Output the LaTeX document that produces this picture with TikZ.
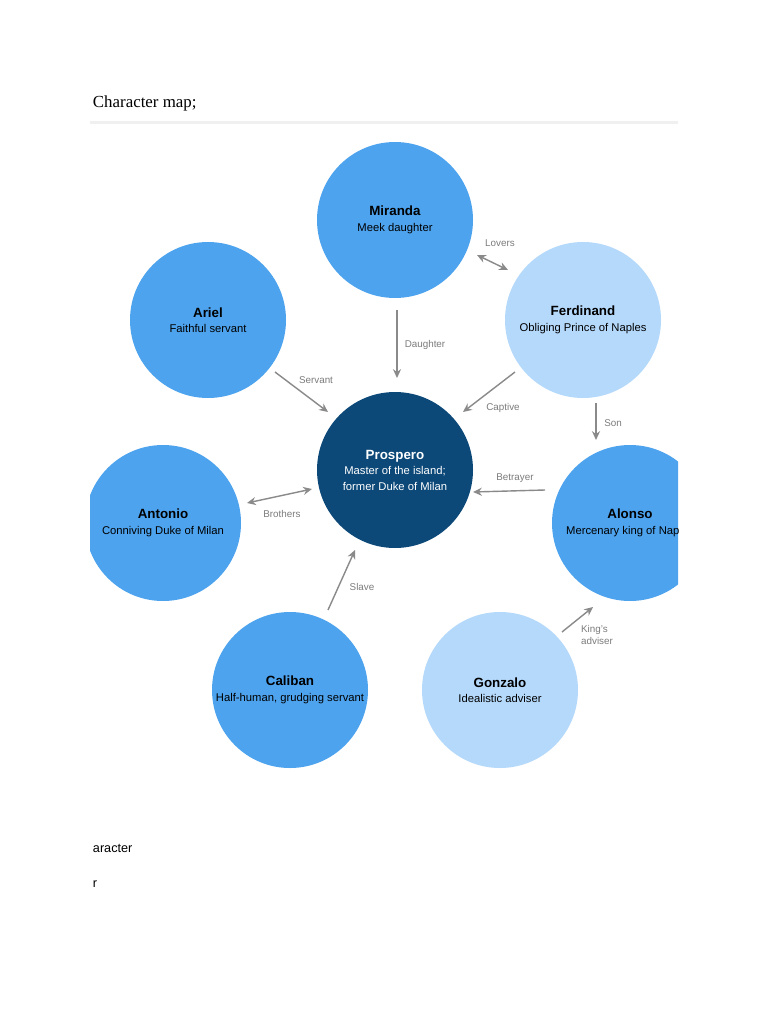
\documentclass[tikz,border=0pt]{standalone}
\usepackage{fontspec}
\setmainfont{Liberation Serif}
\setsansfont{Liberation Sans}
\usetikzlibrary{arrows.meta,positioning}
\definecolor{midblue}{HTML}{4DA3EE}
\definecolor{lightblue}{HTML}{B5D9FB}
\definecolor{darkblue}{HTML}{0C4878}
\definecolor{arrowgray}{HTML}{8A8A8A}
\tikzset{
  person/.style={circle, minimum size=156\px, inner sep=0pt, align=center, font=\sffamily\fontsize{8}{11}\selectfont},
  rel/.style={draw=arrowgray, line width=1pt, -{Stealth[length=2.2mm,width=2mm]}},
  mutual/.style={draw=arrowgray, line width=1pt, {Stealth[length=2.2mm,width=2mm]}-{Stealth[length=2.2mm,width=2mm]}},
  tag/.style={font=\sffamily\fontsize{7}{9}\selectfont, text=arrowgray!90!black, align=left}
}
\newlength{\px}
\setlength{\px}{0.025cm}
\newcommand{\who}[2]{\textbf{\fontsize{9.5}{12}\selectfont #1}\\#2}
\begin{document}
\begin{tikzpicture}[x=0.025cm, y=-0.025cm]
\useasboundingbox (0,0) rectangle (768,1024);
\fill[white] (0,0) rectangle (768,1024);
\node[anchor=west, font=\fontsize{12}{14}\selectfont] (title) at (88,103) {Character map;};
\fill[gray!12] (90,121) rectangle (678,124);
\begin{scope}
\clip (90,124) rectangle (678,910);
% characters
\node[person, fill=midblue] (miranda) at (395,220) {\who{Miranda}{Meek daughter}};
\node[person, fill=midblue] (ariel) at (208,320) {\who{Ariel}{Faithful servant}};
\node[person, fill=lightblue] (ferdinand) at (583,320) {\who{Ferdinand}{Obliging Prince of Naples}};
\node[person, fill=darkblue, text=white] (prospero) at (395,470) {\who{Prospero}{Master of the island;\\former Duke of Milan}};
\node[person, fill=midblue] (antonio) at (163,523) {\who{Antonio}{Conniving Duke of Milan}};
\node[person, fill=midblue] (alonso) at (630,523) {\who{Alonso}{Mercenary king of Naples}};
\node[person, fill=midblue] (caliban) at (290,690) {\who{Caliban}{Half-human, grudging servant}};
\node[person, fill=lightblue] (gonzalo) at (500,690) {\who{Gonzalo}{Idealistic adviser}};
\end{scope}
% relations
\coordinate (lovA) at (477,255); \coordinate (lovB) at (508,270);
\draw[mutual] (lovA) -- (lovB);
\node[tag] (lovers) at (500,243) {Lovers};
\coordinate (dauA) at (397,310); \coordinate (dauB) at (397,378);
\draw[rel] (dauA) -- (dauB);
\node[tag] (daughter) at (425,345) {Daughter};
\coordinate (serA) at (275,372); \coordinate (serB) at (328,412);
\draw[rel] (serA) -- (serB);
\node[tag] (servant) at (316,380) {Servant};
\coordinate (capA) at (515,372); \coordinate (capB) at (463,412);
\draw[rel] (capA) -- (capB);
\node[tag] (captive) at (503,408) {Captive};
\coordinate (sonA) at (596,403); \coordinate (sonB) at (596,440);
\draw[rel] (sonA) -- (sonB);
\node[tag] (son) at (613,423) {Son};
\coordinate (betA) at (545,490); \coordinate (betB) at (473,492);
\draw[rel] (betA) -- (betB);
\node[tag] (betrayer) at (515,478) {Betrayer};
\coordinate (broA) at (247,503); \coordinate (broB) at (312,489);
\draw[mutual] (broA) -- (broB);
\node[tag] (brothers) at (282,514) {Brothers};
\coordinate (slaA) at (328,610); \coordinate (slaB) at (355,550);
\draw[rel] (slaA) -- (slaB);
\node[tag] (slave) at (362,587) {Slave};
\coordinate (kinA) at (562,632); \coordinate (kinB) at (593,607);
\draw[rel] (kinA) -- (kinB);
\node[tag] (kings) at (597,635) {King's\\adviser};
% cut-off legend
\node[anchor=west, font=\sffamily\fontsize{9}{11}\selectfont] (legA) at (88,848) {aracter};
\node[anchor=west, font=\sffamily\fontsize{9}{11}\selectfont] (legB) at (88,884) {r};
\end{tikzpicture}
\end{document}
